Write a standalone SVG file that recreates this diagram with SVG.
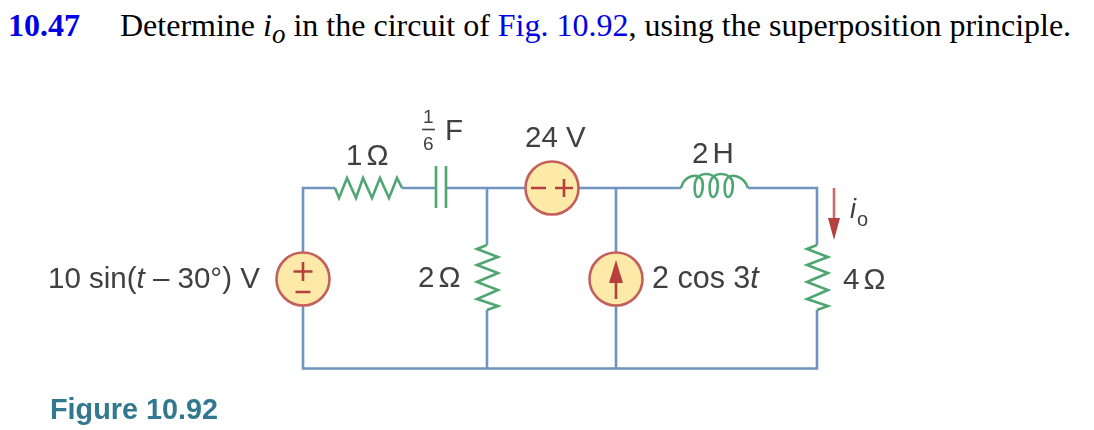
<svg xmlns="http://www.w3.org/2000/svg" width="1094" height="430" viewBox="0 0 1094 430">
<defs><filter id="soft" x="-5%" y="-5%" width="110%" height="110%"><feGaussianBlur stdDeviation="0.55"/></filter></defs>
<style>
.h{font-family:"Liberation Serif",serif;font-size:32px;fill:#000}
.l{font-family:"Liberation Sans",sans-serif;font-size:29.5px;fill:#404040}
.o{word-spacing:-4px}
.f{font-size:19px}
.w{fill:none;stroke:#7094bd;stroke-width:2.6}
.g{fill:none;stroke:#4fa673;stroke-width:2.6}
.s{fill:#fde9a8;stroke:#c4605c;stroke-width:2.6}
.r{fill:none;stroke:#b5413c;stroke-width:2.6}
</style>
<rect width="1094" height="430" fill="#fff"/>
<g id="header">
<text class="h" x="8" y="36" font-weight="bold" style="fill:#0000e6">10.47</text>
<text class="h" x="120" y="36">Determine <tspan font-style="italic">i</tspan><tspan font-style="italic" dy="7" font-size="27">o</tspan><tspan dy="-7"> in the circuit of </tspan><tspan style="fill:#0000e6">Fig. 10.92</tspan>, using the superposition principle.</text>
</g>
<g filter="url(#soft)">
<g id="connectors">
<path class="w" d="M303 252V188H335M402 188H436M446 188H525M579 188H681M748 188H817V245M817 310V368.5H303V306M487 188V245M487 310V368.5M616 188V252M616 306V368.5"/>
</g>
<g id="V1"><circle class="s" cx="303" cy="279" r="26.5"/><path class="r" d="M303 262V281M293.500 271.500H312.500M295.500 292H310.500"/><text class="l" x="48" y="288">10 sin(<tspan font-style="italic">t</tspan> – 30°) V</text></g>
<g id="R1"><path class="g" d="M335 188L339 198L347 178L356 198L363 178L372 198L380 178L389 198L397 178L402 188"/><text class="l o" x="346" y="165">1 Ω</text></g>
<g id="C1"><path class="g" d="M436 166V208M446 166V208"/>
<text class="l f" x="423" y="123">1</text><path d="M422 129.500H435" stroke="#404040" stroke-width="1.6"/><text class="l f" x="423" y="150">6</text><text class="l" x="445" y="140">F</text></g>
<g id="V2"><circle class="s" cx="552" cy="188" r="26.5"/><path class="r" d="M531 188H546M555 188H573M564 179V197"/><text class="l" x="525" y="147">24 V</text></g>
<g id="L1"><path class="g" d="M681 188C684 176 697 172 702 180C704 186 702 197 698 197C694 197 694 184 696 180C700 172 712 172 717 180C719 186 717 197 713 197C709 197 709 184 711 180C715 172 727 172 732 180C734 186 732 197 728 197C724 197 724 184 726 180C730 172 744 176 748 188"/><text class="l o" x="692" y="163">2 H</text></g>
<g id="R2"><path class="g" d="M487 245L477 249L498 257L477 265L498 273L477 282L498 290L477 299L498 306L487 310"/><text class="l o" x="418" y="287">2 Ω</text></g>
<g id="I1"><circle class="s" cx="616" cy="279" r="26.5"/><path class="r" d="M616 299V278"/><path d="M616 260L623 283H609Z" fill="#b5413c"/><text class="l" x="652" y="288" style="font-size:30.500px">2 cos 3<tspan font-style="italic">t</tspan></text></g>
<g id="R3"><path class="g" d="M817 245L807 249L828 257L807 265L828 273L807 282L828 290L807 299L828 306L817 310"/><text class="l o" x="843" y="289">4 Ω</text></g>
<g id="io"><path d="M834 188V220" stroke="#cf6b6c" stroke-width="2.6"/><path d="M828 218H840L834 240Z" fill="#b5413c"/><text class="l" x="850" y="218" font-style="italic" style="font-size:27px">i</text><text class="l" x="857" y="226" style="font-size:20px">o</text></g>
<text id="caption" x="50" y="419" font-family="Liberation Sans, sans-serif" font-size="28.800" font-weight="bold" fill="#30788f">Figure 10.92</text>
</g>
</svg>
